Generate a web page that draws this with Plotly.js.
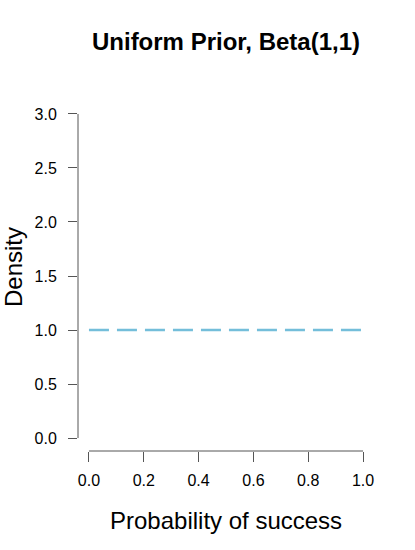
<!DOCTYPE html>
<html>
<head>
<meta charset="utf-8">
<script src="https://cdn.plot.ly/plotly-3.0.1.min.js"></script>
<style>html,body{margin:0;padding:0;background:#fff;}#chart{width:415px;height:550px;}</style>
</head>
<body>
<div id="chart"></div>
<script>
// Data
const probability = [0, 1];
const density = [1, 1];
const xTickVals = [0, 0.2, 0.4, 0.6, 0.8, 1.0];
const xTickText = ["0.0", "0.2", "0.4", "0.6", "0.8", "1.0"];
const yTickVals = [0, 0.5, 1, 1.5, 2, 2.5, 3];
const yTickText = ["0.0", "0.5", "1.0", "1.5", "2.0", "2.5", "3.0"];

const font = "Liberation Sans, Arial, Helvetica, sans-serif";
const axisColor = "#555555";

const trace = {
  x: probability,
  y: density,
  type: "scatter",
  mode: "lines",
  line: {color: "#74BEDA", width: 2.5, dash: "20px,8px"},
  hoverinfo: "skip"
};

const layout = {
  width: 415,
  height: 550,
  margin: {l: 78, r: 41, t: 101, b: 99},
  paper_bgcolor: "#ffffff",
  plot_bgcolor: "#ffffff",
  showlegend: false,
  font: {family: font, color: "#000000"},
  title: {
    text: "<b>Uniform Prior, Beta(1,1)</b>",
    font: {family: font, size: 24, color: "#000000"},
    x: 0.5, xref: "paper", xanchor: "center",
    y: 1 - 42 / 550, yref: "container", yanchor: "middle"
  },
  xaxis: {
    range: [-0.04, 1.04],
    tickmode: "array",
    tickvals: xTickVals,
    ticktext: xTickText,
    ticks: "outside",
    ticklen: 10,
    tickwidth: 1,
    tickcolor: axisColor,
    tickfont: {family: font, size: 16, color: "#000000"},
    ticklabelstandoff: 5,
    showgrid: false,
    zeroline: false,
    showline: false,
    fixedrange: true
  },
  yaxis: {
    range: [-0.12, 3.12],
    tickmode: "array",
    tickvals: yTickVals,
    ticktext: yTickText,
    ticks: "outside",
    ticklen: 9,
    tickwidth: 1,
    tickcolor: axisColor,
    tickfont: {family: font, size: 16, color: "#000000"},
    ticklabelstandoff: 8,
    showgrid: false,
    zeroline: false,
    showline: false,
    fixedrange: true
  },
  shapes: [
    {type: "line", xref: "x", yref: "paper", x0: xTickVals[0], x1: xTickVals[xTickVals.length - 1], y0: 0, y1: 0,
     line: {color: axisColor, width: 1}},
    {type: "line", xref: "paper", yref: "y", x0: 0, x1: 0, y0: yTickVals[0], y1: yTickVals[yTickVals.length - 1],
     line: {color: axisColor, width: 1}}
  ],
  annotations: [
    {text: "Probability of success", xref: "paper", yref: "paper", x: 0.5, y: (550 - 99 - 520) / 350,
     xanchor: "center", yanchor: "middle", showarrow: false,
     font: {family: font, size: 24, color: "#000000"}},
    {text: "Density", xref: "paper", yref: "paper", x: (13 - 78) / 296, y: (550 - 99 - 267) / 350,
     xanchor: "center", yanchor: "middle", showarrow: false, textangle: -90,
     font: {family: font, size: 24, color: "#000000"}}
  ]
};

Plotly.newPlot("chart", [trace], layout, {displayModeBar: false, staticPlot: true});
</script>
</body>
</html>
